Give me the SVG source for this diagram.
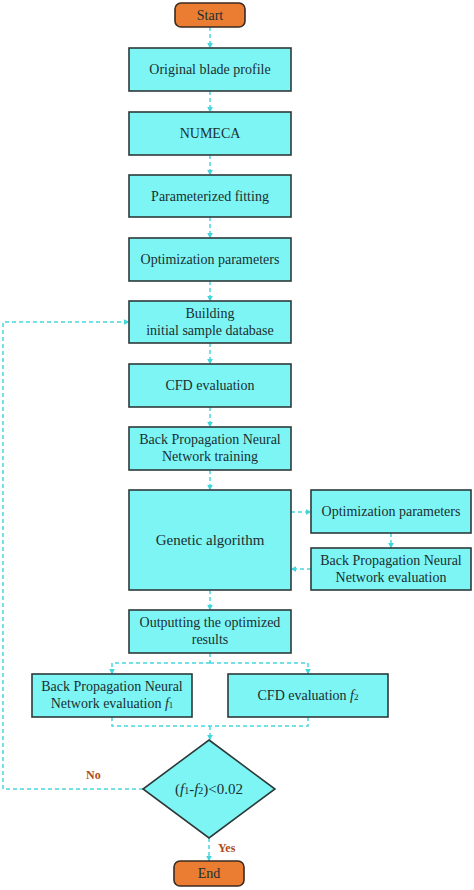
<svg xmlns="http://www.w3.org/2000/svg" width="474" height="890" viewBox="0 0 474 890">
<defs>
<marker id="ah" viewBox="0 0 10 10" refX="9" refY="5" markerWidth="6" markerHeight="6" orient="auto" markerUnits="userSpaceOnUse">
<path d="M0,0 L10,5 L0,10 z" fill="#3fd6dc"/>
</marker>
<style>
.box{fill:#7ef5f5;stroke:#2e3a3a;stroke-width:1.6}
.term{fill:#ea7d32;stroke:#3a2a20;stroke-width:1.6}
.t{font-family:"Liberation Serif","Times New Roman",serif;font-size:14px;fill:#1a3030;text-anchor:middle}
.big{font-size:15px}
.lbl{font-family:"Liberation Serif","Times New Roman",serif;font-size:12px;font-weight:bold;fill:#b04a1a}
.c{fill:none;stroke:#45d8de;stroke-width:1.5;stroke-dasharray:4 3}
.ca{fill:none;stroke:#45d8de;stroke-width:1.5;stroke-dasharray:4 3;marker-end:url(#ah)}
</style>
</defs>
<g id="connectors">
<line class="ca" x1="210" y1="27" x2="210" y2="48"/>
<line class="ca" x1="210" y1="91" x2="210" y2="112"/>
<line class="ca" x1="210" y1="155" x2="210" y2="175"/>
<line class="ca" x1="210" y1="217" x2="210" y2="238"/>
<line class="ca" x1="210" y1="281" x2="210" y2="301"/>
<line class="ca" x1="210" y1="343" x2="210" y2="364"/>
<line class="ca" x1="210" y1="407" x2="210" y2="427"/>
<line class="ca" x1="210" y1="470" x2="210" y2="490"/>
<line class="ca" x1="291" y1="512" x2="311" y2="512"/>
<line class="ca" x1="391" y1="533" x2="391" y2="548"/>
<line class="ca" x1="311" y1="569" x2="291" y2="569"/>
<line class="ca" x1="210" y1="590" x2="210" y2="610"/>
<polyline class="c" points="210,653 210,663"/>
<polyline class="ca" points="210,663 112,663 112,674"/>
<polyline class="ca" points="210,663 308,663 308,674"/>
<polyline class="c" points="112,717 112,726 308,726 308,717"/>
<line class="ca" x1="210" y1="726" x2="210" y2="740"/>
<polyline class="ca" points="143,789 3,789 3,322 129,322"/>
<line class="ca" x1="209" y1="838" x2="209" y2="861"/>
<text class="lbl" x="86" y="779">No</text>
<text class="lbl" x="218" y="852">Yes</text>
</g>
<g id="start"><rect class="term" x="175" y="3" width="70" height="24" rx="6"/><text class="t" x="210" y="20">Start</text></g>
<g id="original"><rect class="box" x="129" y="48" width="162" height="43"/><text class="t" x="210" y="74">Original blade profile</text></g>
<g id="numeca"><rect class="box" x="129" y="112" width="162" height="43"/><text class="t" x="210" y="138">NUMECA</text></g>
<g id="fitting"><rect class="box" x="129" y="175" width="162" height="42"/><text class="t" x="210" y="201">Parameterized fitting</text></g>
<g id="optparams"><rect class="box" x="129" y="238" width="162" height="43"/><text class="t" x="210" y="264">Optimization parameters</text></g>
<g id="building"><rect class="box" x="129" y="301" width="162" height="42"/><text class="t" x="210" y="318">Building</text><text class="t" x="210" y="335">initial sample database</text></g>
<g id="cfd"><rect class="box" x="129" y="364" width="162" height="43"/><text class="t" x="210" y="390">CFD evaluation</text></g>
<g id="bpnntrain"><rect class="box" x="129" y="427" width="162" height="43"/><text class="t" x="210" y="444">Back Propagation Neural</text><text class="t" x="210" y="461">Network training</text></g>
<g id="ga"><rect class="box" x="129" y="490" width="162" height="100"/><text class="t big" x="210" y="545">Genetic algorithm</text></g>
<g id="optparams2"><rect class="box" x="311" y="490" width="160" height="43"/><text class="t" x="391" y="516">Optimization parameters</text></g>
<g id="bpnneval"><rect class="box" x="311" y="548" width="160" height="42"/><text class="t" x="391" y="565">Back Propagation Neural</text><text class="t" x="391" y="582">Network evaluation</text></g>
<g id="output"><rect class="box" x="129" y="610" width="162" height="43"/><text class="t" x="210" y="627">Outputting the optimized</text><text class="t" x="210" y="644">results</text></g>
<g id="bpnnf1"><rect class="box" x="32" y="674" width="160" height="43"/><text class="t" x="112" y="691">Back Propagation Neural</text><text class="t" x="112" y="708">Network evaluation <tspan font-style="italic">f</tspan><tspan font-size="9">1</tspan></text></g>
<g id="cfdf2"><rect class="box" x="228" y="674" width="160" height="43"/><text class="t" x="308" y="700">CFD evaluation <tspan font-style="italic">f</tspan><tspan font-size="9">2</tspan></text></g>
<g id="decision"><polygon class="box" points="209,740 275,789 209,838 143,789"/><text class="t big" x="209" y="794">(<tspan font-style="italic">f</tspan><tspan font-size="10">1</tspan>-<tspan font-style="italic">f</tspan><tspan font-size="10">2</tspan>)&lt;0.02</text></g>
<g id="end"><rect class="term" x="174" y="861" width="70" height="25" rx="6"/><text class="t" x="209" y="878">End</text></g>
</svg>
